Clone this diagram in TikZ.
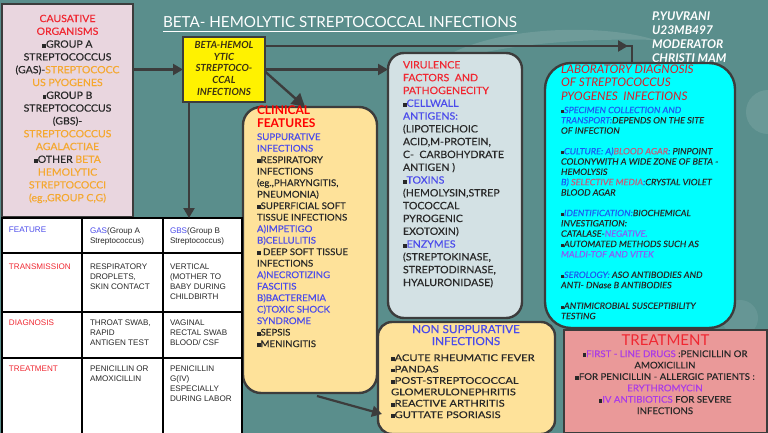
\documentclass[tikz,border=0pt]{standalone}
\usepackage{fontspec}
\setmainfont{Lato}
\newfontfamily\latof{Lato}
\newfontfamily\bodyf{Lato}[FakeStretch=1.05, FakeBold=0.3]
\newfontfamily\nsf{Lato}[FakeStretch=1.2, FakeBold=0.3]
\newfontfamily\tabfont{Liberation Sans}
\usetikzlibrary{arrows.meta}
\definecolor{bgteal}{RGB}{90,142,140}
\definecolor{edgegray}{RGB}{60,60,60}
\definecolor{pinkbox}{RGB}{233,214,223}
\definecolor{creambox}{RGB}{254,226,154}
\definecolor{greybox}{RGB}{211,225,228}
\definecolor{cyanbox}{RGB}{0,255,255}
\definecolor{salmonbox}{RGB}{234,153,153}
\definecolor{redt}{RGB}{240,40,50}
\definecolor{labred}{RGB}{220,30,40}
\definecolor{oranget}{RGB}{245,168,48}
\definecolor{bluet}{RGB}{75,75,235}
\definecolor{labblue}{RGB}{30,90,240}
\definecolor{roset}{RGB}{200,90,120}
\definecolor{purplet}{RGB}{140,90,245}
\definecolor{magt}{RGB}{170,60,230}
\definecolor{darkt}{RGB}{40,40,40}
\definecolor{olivet}{RGB}{60,50,20}
\newcommand\bul[1][3.6pt]{\rule{#1}{#1}}
\newcommand\fs[2]{\fontsize{#1}{#2}\selectfont}
\begin{document}
\begin{tikzpicture}[x=1pt,y=-1pt,
  every node/.style={inner sep=0pt, outer sep=0pt},
  frame/.style={draw=edgegray, line width=2.4pt, anchor=north west},
  txt/.style={anchor=north west, align=left, text=darkt},
  ctxt/.style={anchor=north, align=center, text=darkt},
  conn/.style={draw=edgegray, line width=2.2pt, -{Triangle[length=10pt,width=11pt]}},
  bigconn/.style={draw=edgegray, line width=2.4pt, -{Triangle[length=13pt,width=14pt]}},
  plain/.style={draw=edgegray, line width=2.2pt},
  tline/.style={draw=black, line width=1.8pt}]
\useasboundingbox (0,0) rectangle (768,433);
\fill[bgteal] (0,0) rectangle (768,433);
% faint background swirls
\fill[white, opacity=0.12] (425,72) .. controls (470,25) and (600,22) .. (655,40) .. controls (600,38) and (480,42) .. (425,72) -- cycle;
\fill[white, opacity=0.10] (768,112) circle (22);
\fill[white, opacity=0.08] (740,318) circle (18);

% title and author
\node[anchor=north west, text=white, font=\latof\fs{15.2}{17}] (title) at (163,16) {BETA- HEMOLYTIC STREPTOCOCCAL INFECTIONS};
\draw[white, line width=1.2pt] ([yshift=-4.5pt]title.base west) -- ([yshift=-4.5pt]title.base east);
\node[txt, text=white, font=\latof\fs{12}{14}\bfseries\itshape] (author) at (652,11.4) {P.YUVRANI\\U23MB497\\MODERATOR\\CHRISTI MAM};

% boxes
\node[frame, fill=pinkbox, minimum width=131pt, minimum height=213pt] (caus) at (2,4) {};
\node[frame, line width=2.8pt, fill=yellow, minimum width=82pt, minimum height=65pt] (yel) at (183,37) {};
\node[frame, rounded corners=18pt, fill=creambox, minimum width=134pt, minimum height=286pt] (clin) at (243,107) {};
\node[frame, rounded corners=16pt, fill=greybox, minimum width=134pt, minimum height=265pt] (vir) at (388,53) {};
\coordinate (turn) at (632,46);
\draw[plain] ([yshift=-9pt]yel.north east) -- (turn) -- (turn |- 0,64);
\node[frame, rounded corners=26pt, fill=cyanbox, minimum width=190pt, minimum height=265pt] (lab) at (545,63) {};
\node[frame, rounded corners=14pt, fill=creambox, minimum width=177pt, minimum height=112pt] (ns) at (378,322) {};
\node[frame, line width=2pt, fill=salmonbox, minimum width=203pt, minimum height=103pt] (treat) at (564,330) {};

% table
\node[draw=black, line width=1.8pt, fill=white, anchor=north west, minimum width=240pt, minimum height=220pt] (tab) at (2,218) {};
\draw[tline] (82,218) -- (82,440);
\draw[tline] (163,218) -- (163,440);
\draw[tline] (2,253) -- (242,253);
\draw[tline] (2,312) -- (242,312);
\draw[tline] (2,358) -- (242,358);

% connectors
\draw[conn] ([yshift=-9pt]yel.north east) -- ([xshift=-4pt]turn);
\draw[conn] (caus.east |- yel.west) -- (yel.west);
\draw[conn] (yel.east) -- (yel.east -| vir.west);
\draw[bigconn] ([yshift=-2pt]yel.east) -- ([xshift=-5pt]clin.north);
\draw[conn] ([xshift=-35pt]yel.south) -- ([xshift=-35pt]yel.south |- tab.north);
\draw[conn] ([xshift=7pt,yshift=-3pt]clin.south) -- ([xshift=4pt,yshift=-36pt]ns.west);

% causative text
\node[ctxt, font=\bodyf\fs{10}{12.8}] (caustext) at (67.5,14.8) {%
\textcolor{redt}{CAUSATIVE}\\
\textcolor{redt}{ORGANISMS}\\
\bul GROUP A\\
STREPTOCOCCUS\\
(GAS)-\textcolor{oranget}{STREPTOCOCC}\\
\textcolor{oranget}{US PYOGENES}\\
\bul GROUP B\\
STREPTOCOCCUS\\
(GBS)-\\
\textcolor{oranget}{STREPTOCOCCUS}\\
\textcolor{oranget}{AGALACTIAE}\\
\bul OTHER \textcolor{oranget}{BETA}\\
\textcolor{oranget}{HEMOLYTIC}\\
\textcolor{oranget}{STREPTOCOCCI}\\
\textcolor{oranget}{(eg.,GROUP C,G)}};

% yellow text
\node[ctxt, text=olivet, font=\latof\fs{9.8}{11.7}\bfseries\itshape] (yeltext) at (224,41.3) {BETA-HEMOL\\YTIC\\STREPTOCO-\\CCAL\\INFECTIONS};

% clinical text
\node[txt, text=red, font=\latof\fs{12}{13}\bfseries] (clintitle) at (257,105.4) {CLINICAL\\FEATURES};
\node[txt, font=\bodyf\fs{9.2}{11.5}] (clinbody) at (257,133.4) {%
\textcolor{bluet}{SUPPURATIVE}\\
\textcolor{bluet}{INFECTIONS}\\
\bul RESPIRATORY\\
INFECTIONS\\
(eg.,PHARYNGITIS,\\
PNEUMONIA)\\
\bul SUPERFICIAL SOFT\\
TISSUE INFECTIONS\\
\textcolor{bluet}{A)IMPETIGO}\\
\textcolor{bluet}{B)CELLULITIS}\\
\bul\ DEEP SOFT TISSUE\\
INFECTIONS\\
\textcolor{bluet}{A)NECROTIZING}\\
\textcolor{bluet}{FASCITIS}\\
\textcolor{bluet}{B)BACTEREMIA}\\
\textcolor{bluet}{C)TOXIC SHOCK}\\
\textcolor{bluet}{SYNDROME}\\
\bul SEPSIS\\
\bul MENINGITIS};

% virulence text
\node[txt, font=\bodyf\fs{10.1}{12.8}] (virtext) at (403,61.1) {%
\textcolor{redt}{VIRULENCE}\\
\textcolor{redt}{FACTORS\ \ AND}\\
\textcolor{redt}{PATHOGENECITY}\\
\bul\textcolor{bluet}{CELLWALL}\\
\textcolor{bluet}{ANTIGENS:}\\
(LIPOTEICHOIC\\
ACID,M-PROTEIN,\\
C-\ \ CARBOHYDRATE\\
ANTIGEN )\\
\bul\textcolor{bluet}{TOXINS}\\
(HEMOLYSIN,STREP\\
TOCOCCAL\\
PYROGENIC\\
EXOTOXIN)\\
\bul\textcolor{bluet}{ENZYMES}\\
(STREPTOKINASE,\\
STREPTODIRNASE,\\
HYALURONIDASE)};

% lab text
\node[txt, text=labred, font=\latof\fs{11.8}{13.5}\itshape] (labtitle) at (561,64.6) {LABORATORY DIAGNOSIS\\OF STREPTOCOCCUS\\PYOGENES\ \ INFECTIONS};
\node[txt, font=\bodyf\fs{8.7}{10.3}\itshape] (labbody) at (561,106.8) {%
\bul[3pt]\textcolor{labblue}{SPECIMEN COLLECTION AND}\\
\textcolor{labblue}{TRANSPORT:}DEPENDS ON THE SITE\\
OF INFECTION\\
\mbox{}\\
\bul[3pt]\textcolor{labblue}{CULTURE: A)}\textcolor{roset}{BLOOD AGAR}\textcolor{labblue}{:} PINPOINT\\
COLONYWITH A WIDE ZONE OF BETA -\\
HEMOLYSIS\\
\textcolor{labblue}{B)} \textcolor{roset}{SELECTIVE MEDIA}\textcolor{labblue}{:}CRYSTAL VIOLET\\
BLOOD AGAR\\
\mbox{}\\
\bul[3pt]\textcolor{labblue}{IDENTIFICATION:}BIOCHEMICAL\\
INVESTIGATION:\\
CATALASE-\textcolor{purplet}{NEGATIVE.}\\
\bul[3pt]AUTOMATED METHODS SUCH AS\\
\textcolor{purplet}{MALDI-TOF AND VITEK}\\
\mbox{}\\
\bul[3pt]\textcolor{labblue}{SEROLOGY:} ASO ANTIBODIES AND\\
ANTI- DNase B ANTIBODIES\\
\mbox{}\\
\bul[3pt]ANTIMICROBIAL SUSCEPTIBILITY\\
TESTING};

% non suppurative text
\node[ctxt, text=bluet, font=\bodyf\fs{11.2}{12}] (nstitle) at (466,325) {NON SUPPURATIVE\\INFECTIONS};
\node[txt, font=\nsf\fs{9.3}{11.4}] (nsbody) at (391,354.3) {%
\bul ACUTE RHEUMATIC FEVER\\
\bul PANDAS\\
\bul POST-STREPTOCOCCAL\\
GLOMERULONEPHRITIS\\
\bul REACTIVE ARTHRITIS\\
\bul GUTTATE PSORIASIS};

% treatment text
\node[ctxt, text=redt, font=\latof\fs{15}{16}] (treattitle) at (665.5,335.2) {TREATMENT};
\node[ctxt, font=\bodyf\fs{9.2}{11.4}] (treatbody) at (665,350.4) {%
\bul\textcolor{magt}{FIRST - LINE DRUGS }:PENICILLIN OR\\
AMOXICILLIN\\
\bul FOR PENICILLIN - ALLERGIC PATIENTS :\\
\textcolor{magt}{ERYTHROMYCIN}\\
\bul\textcolor{magt}{IV ANTIBIOTICS} FOR SEVERE\\
INFECTIONS};

% table text
\begin{scope}[every node/.append style={txt, font=\tabfont\fs{8.1}{10}}]
\node (t11) at (9,227.2) {\textcolor{bluet}{FEATURE}};
\node (t12) at (90,227.2) {\textcolor{bluet}{GAS}(Group A\\Streptococcus)};
\node (t13) at (170,227.2) {\textcolor{bluet}{GBS}(Group B\\Streptococcus)};
\node (t21) at (9,264.2) {\textcolor{redt}{TRANSMISSION}};
\node (t22) at (90,264.2) {RESPIRATORY\\DROPLETS,\\SKIN CONTACT};
\node (t23) at (170,264.2) {VERTICAL\\(MOTHER TO\\BABY DURING\\CHILDBIRTH};
\node (t31) at (9,320.2) {\textcolor{redt}{DIAGNOSIS}};
\node (t32) at (90,320.2) {THROAT SWAB,\\RAPID\\ANTIGEN TEST};
\node (t33) at (170,320.2) {VAGINAL\\RECTAL SWAB\\BLOOD/ CSF};
\node (t41) at (9,366.2) {\textcolor{redt}{TREATMENT}};
\node (t42) at (90,366.2) {PENICILLIN OR\\AMOXICILLIN};
\node (t43) at (170,366.2) {PENICILLIN\\G(IV)\\ESPECIALLY\\DURING LABOR};
\end{scope}
\end{tikzpicture}
\end{document}
